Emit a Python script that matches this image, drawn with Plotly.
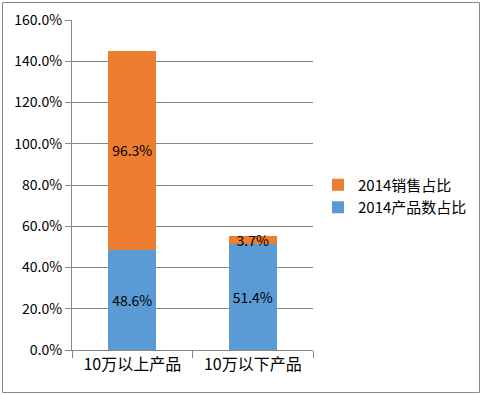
import plotly.graph_objects as go

categories = ["10万以上产品", "10万以下产品"]
product_share = [0.486, 0.514]   # 2014产品数占比
sales_share = [0.963, 0.037]     # 2014销售占比
series_names = ["2014产品数占比", "2014销售占比"]

FONT = "Noto Sans CJK SC, Noto Sans, sans-serif"

fig = go.Figure()
fig.add_trace(go.Bar(
    x=categories, y=product_share, name=series_names[0],
    marker=dict(color="#5B9BD5", line=dict(width=0)),
    text=[f"{v*100:.1f}%" for v in product_share],
    textposition="inside", insidetextanchor="middle", textangle=0,
    textfont=dict(color="#000000", size=14, family=FONT),
))
fig.add_trace(go.Bar(
    x=categories, y=sales_share, name=series_names[1],
    marker=dict(color="#ED7D31", line=dict(width=0)),
    text=[f"{v*100:.1f}%" for v in sales_share],
    textposition="inside", insidetextanchor="middle", textangle=0,
    textfont=dict(color="#000000", size=14, family=FONT),
    constraintext="none",
))

W, H = 486, 395
L, R, T, B = 72, 173, 20, 45
pw, ph = W - L - R, H - T - B

def px2paper_x(px):
    return (px - L) / pw

def px2paper_y(py):
    return (H - B - py) / ph

fig.update_layout(
    width=W, height=H,
    margin=dict(l=L, r=R, t=T, b=B, autoexpand=False),
    barmode="stack", bargap=0.6,
    plot_bgcolor="white", paper_bgcolor="white",
    font=dict(family=FONT, size=14, color="#000000"),
    uniformtext=dict(minsize=14, mode="show"),
    showlegend=True,
    legend=dict(
        xref="container", yref="container",
        x=318 / W, y=(H - 196) / H, xanchor="left", yanchor="middle",
        traceorder="reversed", font=dict(size=15, family=FONT),
        itemwidth=30, tracegroupgap=0,
    ),
    xaxis=dict(
        showgrid=False, showline=True, linecolor="#888888", linewidth=1,
        ticks="outside", ticklen=7, tickcolor="#888888", tickson="boundaries",
        tickfont=dict(size=16, family=FONT), automargin=False,
    ),
    yaxis=dict(
        range=[0, 1.6], dtick=0.2, tickformat=".1%",
        showgrid=True, gridcolor="#888888", gridwidth=1,
        showline=True, linecolor="#888888", linewidth=1,
        ticks="outside", ticklen=6, tickcolor="#888888",
        zeroline=False, automargin=False,
        tickfont=dict(size=14, family=FONT),
    ),
    shapes=[dict(
        type="rect", xref="paper", yref="paper",
        x0=px2paper_x(2.5), x1=px2paper_x(479.5),
        y0=px2paper_y(392.5), y1=px2paper_y(2.5),
        line=dict(color="#888888", width=1), fillcolor="rgba(0,0,0,0)",
        layer="below",
    )],
)

fig.write_html(
    "out.html",
    config={"displayModeBar": False},
    post_script="document.body.style.margin='0';document.body.style.padding='0';document.body.style.overflow='hidden';",
)
